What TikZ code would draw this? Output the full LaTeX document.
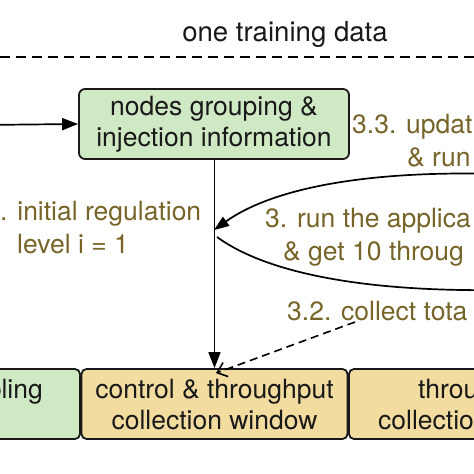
\documentclass[tikz,border=0pt]{standalone}
\usepackage{fontspec}
\setmainfont{TeX Gyre Heros}
\usetikzlibrary{arrows.meta}
\definecolor{boxgreen}{RGB}{208,233,197}
\definecolor{boxtan}{RGB}{243,220,160}
\definecolor{stepolive}{RGB}{118,100,40}
\definecolor{inkgray}{RGB}{25,25,25}

\begin{document}
\begin{tikzpicture}[x=1pt,y=-1pt,
  every node/.style={font=\fontsize{26.5}{31}\selectfont, text=inkgray},
  groupbox/.style={draw=inkgray, line width=1.8pt, rounded corners=6pt, fill=boxgreen,
    align=center, minimum width=270pt, minimum height=70pt, inner sep=0pt},
  slotbox/.style={draw=inkgray, line width=1.8pt, rounded corners=5pt,
    align=center, minimum height=70pt, inner sep=0pt},
  steptext/.style={text=stepolive, anchor=base west, inner sep=0pt},
  flow/.style={draw=black, line width=1.7pt, -{Triangle[length=16pt,width=12pt]}},
  loopflow/.style={draw=black, line width=1.7pt, -{Triangle[length=15pt,width=11pt]}},
  collect/.style={draw=black, line width=1.6pt, dash pattern=on 8pt off 5pt,
    -{Straight Barb[length=9pt,width=15pt]}}]
\useasboundingbox (0,0) rectangle (474,474);

% header
\node[anchor=base, font=\fontsize{27.6}{32}\selectfont] (title) at (285,41) {one training data};
\draw[line width=1.6pt, dash pattern=on 10pt off 6pt] (0,57) -- (474,57);

% grouping box
\node[groupbox] (group) at (214,124) {nodes grouping \&\\injection information};
\coordinate (feed) at (-20,125);
\draw[flow] (feed) -- (group.west);

% time slots
\node[slotbox, fill=boxgreen, minimum width=180pt] (sampling) at (-10,404) {};
\node[slotbox, fill=boxtan, minimum width=266pt] (window) at (214.5,404) {};
\node[slotbox, fill=boxtan, minimum width=266pt] (nextwin) at (482,404) {};
\node[anchor=base east, inner sep=0pt] (samptext) at (43,398) {pling};
\node[anchor=base, align=center, inner sep=0pt] (wintext) at (214.5,429) {control \& throughput\\collection window};
\node[anchor=base west, inner sep=0pt] (nexttop) at (418,398) {throu};
\node[anchor=base west, inner sep=0pt] (nextbot) at (378,429) {collectio};

% main flow
\draw[flow] (group.south -| window.north) -- (window.north);

% run loop
\coordinate (runfar) at (500,174);
\coordinate (runtip) at (214,230);
\coordinate (backstart) at (217,237);
\coordinate (backfar) at (500,290);
\draw[loopflow] (runfar) .. controls (360,170) and (270,190) .. (runtip);
\draw[line width=1.7pt] (backstart) .. controls (265,272) and (360,292) .. (backfar);
\coordinate (collectstart) at (355,322);
\draw[collect] (collectstart) -- ([xshift=1.5pt,yshift=-5pt]window.north);

% step labels
\node[steptext] (initone) at (0,220) {. initial regulation};
\node[steptext] (inittwo) at (17,253) {level i = 1};
\node[steptext] (updone) at (352,133) {3.3. updat};
\node[steptext] (updtwo) at (407,166) {\& run};
\node[steptext] (runone) at (265,227) {3. run the applica};
\node[steptext] (runtwo) at (283,260) {\& get 10 throug};
\node[steptext] (totalone) at (287,320) {3.2. collect tota};
\end{tikzpicture}
\end{document}
